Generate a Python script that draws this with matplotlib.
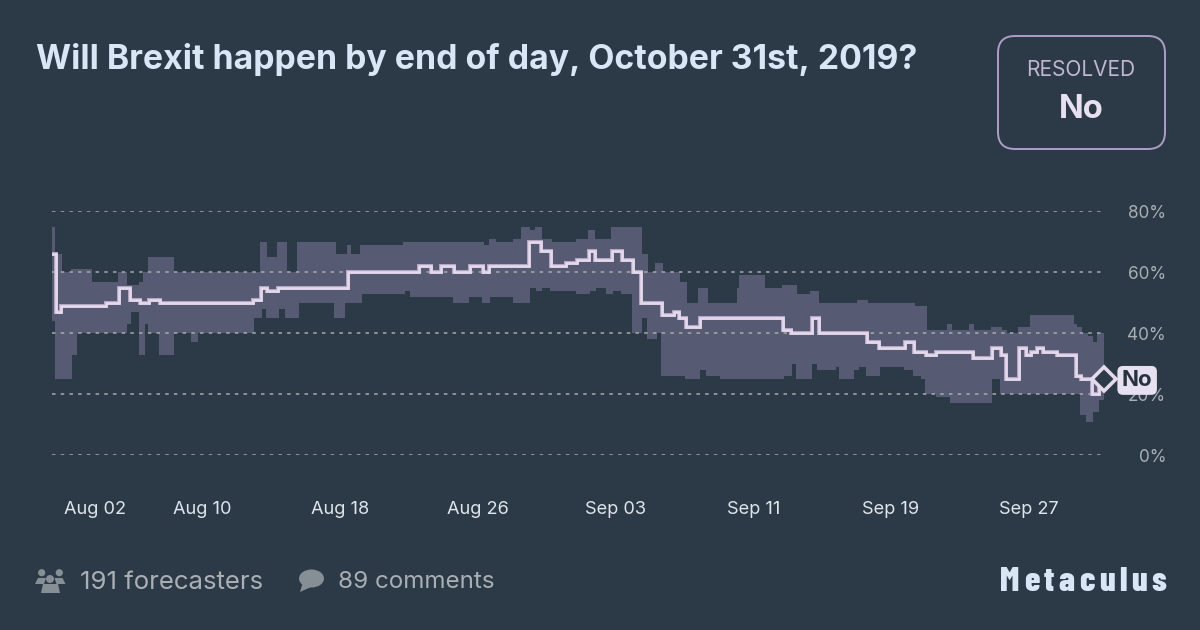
import matplotlib
matplotlib.use("Agg")
import matplotlib.pyplot as plt
from matplotlib.patches import Circle, Ellipse, FancyBboxPatch, Polygon

# days counted from Aug 02
line_days = [-0.68, -0.51, -0.21, 2.40, 3.17, 3.81, 4.39, 4.91, 5.55, 10.97, 11.40, 11.75, 12.42,
             16.45, 20.59, 21.29, 21.87, 22.62, 23.55, 24.29, 24.67, 26.98, 27.66, 28.26, 29.11,
             29.77, 30.46, 30.81, 31.80, 32.36, 33.00, 33.47, 34.72, 35.40, 35.71, 36.10, 36.91,
             41.75, 42.18, 43.40, 43.80, 46.61, 47.32, 48.84, 49.31, 50.03, 50.61, 52.74, 53.85,
             54.39, 54.66, 55.45, 55.82, 56.11, 56.48, 56.83, 57.66, 58.73, 59.04, 59.69, 60.08]
line_vals = [66, 47, 49, 50, 55, 51, 50, 51, 50, 51, 55, 54, 55,
             60, 62, 60, 62, 60, 62, 60, 62, 70, 67, 62, 63,
             64, 67, 64, 67, 64, 60, 50, 46, 47, 45, 42, 45,
             41, 40, 45, 40, 37, 35, 37, 34, 33, 34, 32, 35,
             33, 25, 35, 33, 34, 35, 34, 33, 26, 25, 20, 23]

upper_days = [-0.72, -0.55, -0.14, 0.38, 1.60, 3.11, 3.64, 4.33, 4.56, 4.85, 6.36, 11.34, 11.79,
              12.35, 12.91, 13.51, 15.77, 16.39, 16.63, 17.17, 19.68, 24.37, 24.64, 25.06, 26.07,
              26.50, 27.04, 27.33, 27.72, 28.30, 29.71, 30.42, 30.83, 31.74, 33.52, 33.91, 34.30,
              34.76, 35.75, 36.14, 36.81, 37.36, 39.06, 39.17, 40.67, 41.67, 42.56, 43.31, 43.82,
              46.05, 46.67, 49.38, 50.08, 51.24, 51.52, 52.55, 52.80, 53.79, 54.43, 54.72, 55.40,
              56.07, 58.61, 58.82, 59.10, 59.43, 59.75, 59.98]
upper_vals = [75, 66, 60, 61, 57, 60, 56, 57, 60, 65, 60, 70, 65,
              70, 60, 70, 66, 69, 66, 69, 70, 69, 71, 70, 71,
              75, 74, 75, 71, 70, 71, 74, 71, 75, 66, 60, 63,
              60, 57, 50, 55, 50, 55, 59, 55, 56, 53, 54, 50,
              51, 50, 49, 41, 43, 41, 43, 41, 42, 41, 40, 42,
              46, 43, 42, 40, 39, 37, 40]

lower_days = [-0.72, -0.55, 0.46, 0.73, 3.64, 3.87, 4.33, 4.66, 4.85, 5.51, 6.38, 7.35, 7.76,
              11.01, 11.46, 11.71, 12.46, 12.81, 13.62, 15.67, 16.28, 17.26, 19.78, 20.07, 22.58,
              23.50, 24.27, 24.73, 26.07, 27.04, 27.37, 27.72, 28.20, 29.71, 30.52, 30.85, 31.43,
              31.84, 32.31, 32.96, 33.52, 33.82, 34.40, 34.66, 36.04, 36.93, 37.26, 38.07, 41.77,
              42.25, 42.49, 43.43, 43.72, 44.81, 45.00, 45.85, 46.14, 46.55, 47.38, 48.74, 49.30,
              49.73, 50.00, 50.61, 51.43, 53.87, 54.35, 59.00, 59.35, 59.75, 60.08]
lower_vals = [44, 25, 33, 40, 43, 47, 33, 43, 40, 33, 40, 37, 40,
              45, 48, 45, 48, 45, 50, 45, 50, 53, 54, 52, 50,
              52, 50, 52, 50, 55, 54, 55, 54, 53, 54, 55, 53,
              54, 53, 40, 45, 38, 40, 26, 25, 28, 26, 25, 26,
              30, 25, 30, 28, 29, 25, 28, 29, 26, 29, 28, 26,
              25, 20, 19, 17, 25, 20, 13, 11, 14, 18]

end_day = 60.35
resolved_val = 25

y_ticks = [0, 20, 40, 60, 80]
date_ticks = [0, 8, 16, 24, 32, 40, 48, 56]
date_labels = ["Aug 02", "Aug 10", "Aug 18", "Aug 26", "Sep 03", "Sep 11", "Sep 19", "Sep 27"]

BG = "#2c3947"
BAND = "#565a72"
LINE = "#e4daec"
GREY = "#a9afb5"
plt.rcParams["font.family"] = ["Inter", "DejaVu Sans"]

W, H = 1200, 630
fig = plt.figure(figsize=(W / 100, H / 100), dpi=100, facecolor=BG)

ax = fig.add_axes([52 / W, 1 - 455 / H, (1104 - 52) / W, (455 - 211.5) / H])
ax.set_facecolor("none")
ax.set_xlim(-0.72, 60.37)
ax.set_ylim(0, 80)
for s in ax.spines.values():
    s.set_visible(False)

# step series hold their value until the next change
ud = upper_days + [end_day]
uv = upper_vals + [upper_vals[-1]]
ld = lower_days + [end_day]
lv = lower_vals + [lower_vals[-1]]
all_days = sorted(set(ud) | set(ld))
uu, ll = [], []
for d in all_days:
    uu.append([v for x, v in zip(ud, uv) if x <= d][-1])
    ll.append([v for x, v in zip(ld, lv) if x <= d][-1])
ax.fill_between(all_days, ll, uu, step="post", color=BAND, lw=0, zorder=2)

ax.set_yticks(y_ticks)
ax.set_yticklabels([f"{v}%" for v in y_ticks])
ax.yaxis.tick_right()
ax.tick_params(axis="y", length=0, pad=0, labelsize=12.4, labelcolor=GREY)
for lab in ax.get_yticklabels():
    lab.set_ha("right")
    lab.set_x(1 + 62 / (1104 - 52))
ax.grid(axis="y", color="#a6adad", lw=1.1, dashes=(2.3, 3.4), zorder=3)
ax.set_axisbelow(False)

ax.set_xticks(date_ticks)
ax.set_xticklabels(date_labels)
ax.tick_params(axis="x", length=0, pad=33, labelsize=13.1, labelcolor="#dfe5ec")
ax.get_xticklabels()[0].set_ha("left")

# median line, with a soft edge under it
line_x = line_days + [end_day]
line_y = line_vals + [resolved_val]
ax.step(line_x, line_y, where="post", color="#b3a6c4", lw=2.9, zorder=4, solid_joinstyle="miter")
ax.step(line_x, line_y, where="post", color=LINE, lw=1.9, zorder=5, solid_joinstyle="miter")

ax.plot([end_day], [resolved_val], marker="D", ms=12, mfc=BG, mec=LINE, mew=2.6, zorder=6, clip_on=False)
ax.annotate("No", (end_day, resolved_val), xytext=(33.5, -1.5), textcoords="offset pixels",
            ha="center", va="center", fontsize=16, fontweight="bold", color="#263240", zorder=7,
            bbox=dict(boxstyle="round,pad=0.2,rounding_size=0.25", fc="#e7e0f0", ec="none"),
            annotation_clip=False)

# header, footer and icons are laid out in figure pixels
ov = fig.add_axes([0, 0, 1, 1], facecolor="none")
ov.set_xlim(0, W)
ov.set_ylim(H, 0)
ov.axis("off")

ov.text(36, 59, "Will Brexit happen by end of day, October 31st, 2019?", fontsize=24.35,
        fontweight="bold", color="#d8e6f6", va="center")

ov.add_patch(FancyBboxPatch((1013, 51), 137, 83, boxstyle="round,pad=15,rounding_size=17",
                            fc="none", ec="#ae9ec6", lw=1.4))
ov.text(1081, 69.5, "RESOLVED", fontsize=15, color="#c0b6d0", ha="center", va="center")
ov.text(1081, 109, "No", fontsize=23.5, color="#e7e0f0", ha="center", va="center", fontweight="bold")

ICON = "#868e96"
for cx, cy, r in [(41.7, 572.7, 3.6), (59.3, 572.7, 3.6), (50, 579, 4.0)]:
    ov.add_patch(Circle((cx, cy), r, fc=ICON, ec="none"))
ov.add_patch(Polygon([(35, 584), (38, 578), (46, 578), (44, 584)], fc=ICON, ec="none"))
ov.add_patch(Polygon([(65.5, 584), (62.5, 578), (54.5, 578), (56.5, 584)], fc=ICON, ec="none"))
ov.add_patch(Polygon([(41, 593), (43, 584), (58, 584), (60, 593)], fc=ICON, ec="none"))
ov.text(80, 582.5, "191 forecasters", fontsize=18.6, color=GREY, va="center")

ov.add_patch(Ellipse((311.5, 578.5), 25, 18, fc=ICON, ec="none"))
ov.add_patch(Polygon([(300, 592), (303, 582), (311, 587)], fc=ICON, ec="none"))
ov.text(338, 582.5, "89 comments", fontsize=17.4, color=GREY, va="center")

# wordmark is spaced by hand
x = 1000.0
for ch in "Metaculus":
    t = ov.text(x, 582, ch, fontsize=25, fontweight=800, color="#d8e6f6", va="center",
                family=["Barlow Condensed", "Liberation Sans"])
    bb = t.get_window_extent(fig.canvas.get_renderer())
    x += bb.width + 4.4

fig.savefig("out.png", dpi=100, facecolor=BG)
